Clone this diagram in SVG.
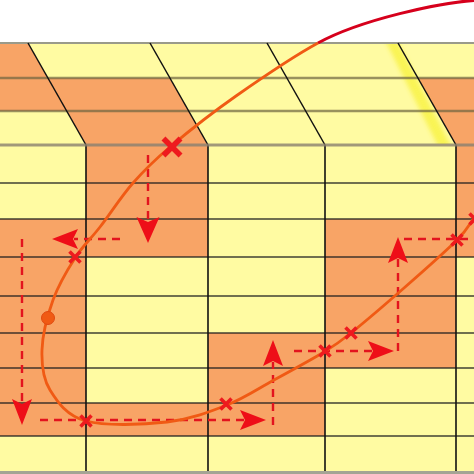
<svg xmlns="http://www.w3.org/2000/svg" xmlns:xlink="http://www.w3.org/1999/xlink" width="474" height="474" viewBox="0 0 474 474">
<style>
.y{fill:#FFFBA2}
.o{fill:#F8A466}
.hl{stroke:#1e1e1e;stroke-width:1.6;fill:none;opacity:0.85}
.vl{stroke:#111;stroke-width:1.6;fill:none}
.sk{stroke:#111;stroke-width:1.5;fill:none}
.th{stroke:#6e6440;stroke-width:2.4;fill:none;opacity:0.7}
.dash{stroke:#E3141E;stroke-width:2.4;fill:none;stroke-dasharray:8 6}
.ah{fill:#EE0E18}
.xm{stroke:#EE1A1E;stroke-width:3.6;fill:none;stroke-linecap:butt}
.curve{stroke:#F05A14;stroke-width:2.8;fill:none}
.curveR{stroke:#D6001C;stroke-width:3;fill:none}
</style>
<defs>
<path id="ah" d="M0,0 L-26,-10 L-21,0 L-26,10 Z"/>
<path id="xm" d="M-5.5,-5.5 L5.5,5.5 M-5.5,5.5 L5.5,-5.5"/>
<filter id="soft" x="-50%" y="-10%" width="200%" height="120%"><feGaussianBlur stdDeviation="2"/></filter>
<clipPath id="bandclip"><rect x="0" y="44" width="474" height="100"/></clipPath>
</defs>
<rect x="0" y="0" width="474" height="474" fill="#ffffff"/>
<g id="top-band">
<rect class="y" x="0" y="43" width="474" height="102"/>
<polygon class="o" points="0,43 28,43 48,78 0,78"/>
<polygon class="o" points="0,78 170,78 189,111 0,111"/>
<polygon class="o" points="66.7,111 188.7,111 208,145 86,145"/>
<polygon class="o" points="418,78 474,78 474,145 456,145"/>
<g clip-path="url(#bandclip)">
<polygon points="385,40 397,40 452,148 439,148" fill="#F6F020" opacity="0.6" filter="url(#soft)"/>
</g>
<line x1="0" y1="43" x2="474" y2="43" stroke="#9a9a8a" stroke-width="2"/>
<line class="th" x1="0" y1="78" x2="474" y2="78"/>
<line class="th" x1="0" y1="111" x2="474" y2="111"/>
<line class="sk" x1="28" y1="43" x2="86" y2="145"/>
<line class="sk" x1="150" y1="43" x2="208" y2="145"/>
<line class="sk" x1="267" y1="43" x2="325" y2="145"/>
<line class="sk" x1="398" y1="43" x2="456" y2="145"/>
</g>
<g id="grid">
<rect class="y" x="0" y="145" width="474" height="327"/>
<rect class="o" x="86" y="145" width="122" height="112"/>
<rect class="o" x="0" y="219" width="86" height="217"/>
<rect class="o" x="86" y="403" width="122" height="33"/>
<rect class="o" x="208" y="333" width="117" height="103"/>
<rect class="o" x="325" y="219" width="131" height="149"/>
<rect class="o" x="456" y="145" width="18" height="112"/>
<line class="hl" x1="0" y1="183" x2="474" y2="183"/>
<line class="hl" x1="0" y1="219" x2="474" y2="219"/>
<line class="hl" x1="0" y1="257" x2="474" y2="257"/>
<line class="hl" x1="0" y1="296" x2="474" y2="296"/>
<line class="hl" x1="0" y1="333" x2="474" y2="333"/>
<line class="hl" x1="0" y1="368" x2="474" y2="368"/>
<line class="hl" x1="0" y1="403" x2="474" y2="403"/>
<line class="hl" x1="0" y1="436" x2="474" y2="436"/>
<line class="vl" x1="86" y1="145" x2="86" y2="471"/>
<line class="vl" x1="208" y1="145" x2="208" y2="471"/>
<line class="vl" x1="325" y1="145" x2="325" y2="471"/>
<line class="vl" x1="456" y1="145" x2="456" y2="471"/>
<line x1="0" y1="145" x2="474" y2="145" stroke="#8a8070" stroke-width="3" opacity="0.8"/>
<rect x="0" y="471" width="474" height="3" fill="#a4a494"/>
</g>
<g id="connectors">
<line class="dash" x1="148" y1="155" x2="148" y2="222"/>
<use href="#ah" class="ah" transform="translate(148,243) rotate(90) scale(1,1.15)"/>
<line class="dash" x1="120" y1="239" x2="74" y2="239"/>
<use href="#ah" class="ah" transform="translate(52,239) rotate(180)"/>
<line class="dash" x1="22" y1="239" x2="22" y2="402"/>
<use href="#ah" class="ah" transform="translate(22,425) rotate(90)"/>
<line class="dash" x1="40" y1="420" x2="244" y2="420"/>
<use href="#ah" class="ah" transform="translate(266,420)"/>
<line class="dash" x1="273" y1="425" x2="273" y2="362"/>
<use href="#ah" class="ah" transform="translate(273,340) rotate(-90)"/>
<line class="dash" x1="294" y1="351" x2="372" y2="351"/>
<use href="#ah" class="ah" transform="translate(394,351)"/>
<line class="dash" x1="398" y1="351" x2="398" y2="259"/>
<use href="#ah" class="ah" transform="translate(398,237) rotate(-90)"/>
<line class="dash" x1="404" y1="239" x2="474" y2="239"/>
</g>
<g id="trajectory">
<path class="curveR" d="M480,0 C440,2 360,20 318,43"/>
<path class="curve" d="M318,43 C294,56 260.7,78.7 236,96 C211.3,113.3 187.2,132.5 170,147 C152.8,161.5 144.7,169.7 133,183 C121.3,196.3 109.7,214.5 100,227 C90.3,239.5 82.8,245.8 75,258 C67.2,270.2 58.5,284.7 53,300 C47.5,315.3 42.5,335 42,350 C41.5,365 42.7,378.2 50,390 C57.3,401.8 66.5,415.7 86,421 C105.5,426.3 143.5,424.7 167,422 C190.5,419.3 209.2,412 227,405 C244.8,398 257.8,388.8 274,380 C290.2,371.2 311.2,359.8 324,352 C336.8,344.2 337.7,343.7 351,333 C364.3,322.3 386.3,303.5 404,288 C421.7,272.5 445.3,251.7 457,240 C468.7,228.3 468.5,225.3 474,218 L490,196"/>
<circle cx="48" cy="318" r="6.5" fill="#F05A14" stroke="#E04A10" stroke-width="1"/>
</g>
<g id="marks">
<use href="#xm" class="xm" transform="translate(172,147) scale(1.55)"/>
<use href="#xm" class="xm" transform="translate(75,257)"/>
<use href="#xm" class="xm" transform="translate(86,421)"/>
<use href="#xm" class="xm" transform="translate(226,404)"/>
<use href="#xm" class="xm" transform="translate(325,351)"/>
<use href="#xm" class="xm" transform="translate(351,333)"/>
<use href="#xm" class="xm" transform="translate(457,240)"/>
<use href="#xm" class="xm" transform="translate(475,219)"/>
</g>
</svg>
